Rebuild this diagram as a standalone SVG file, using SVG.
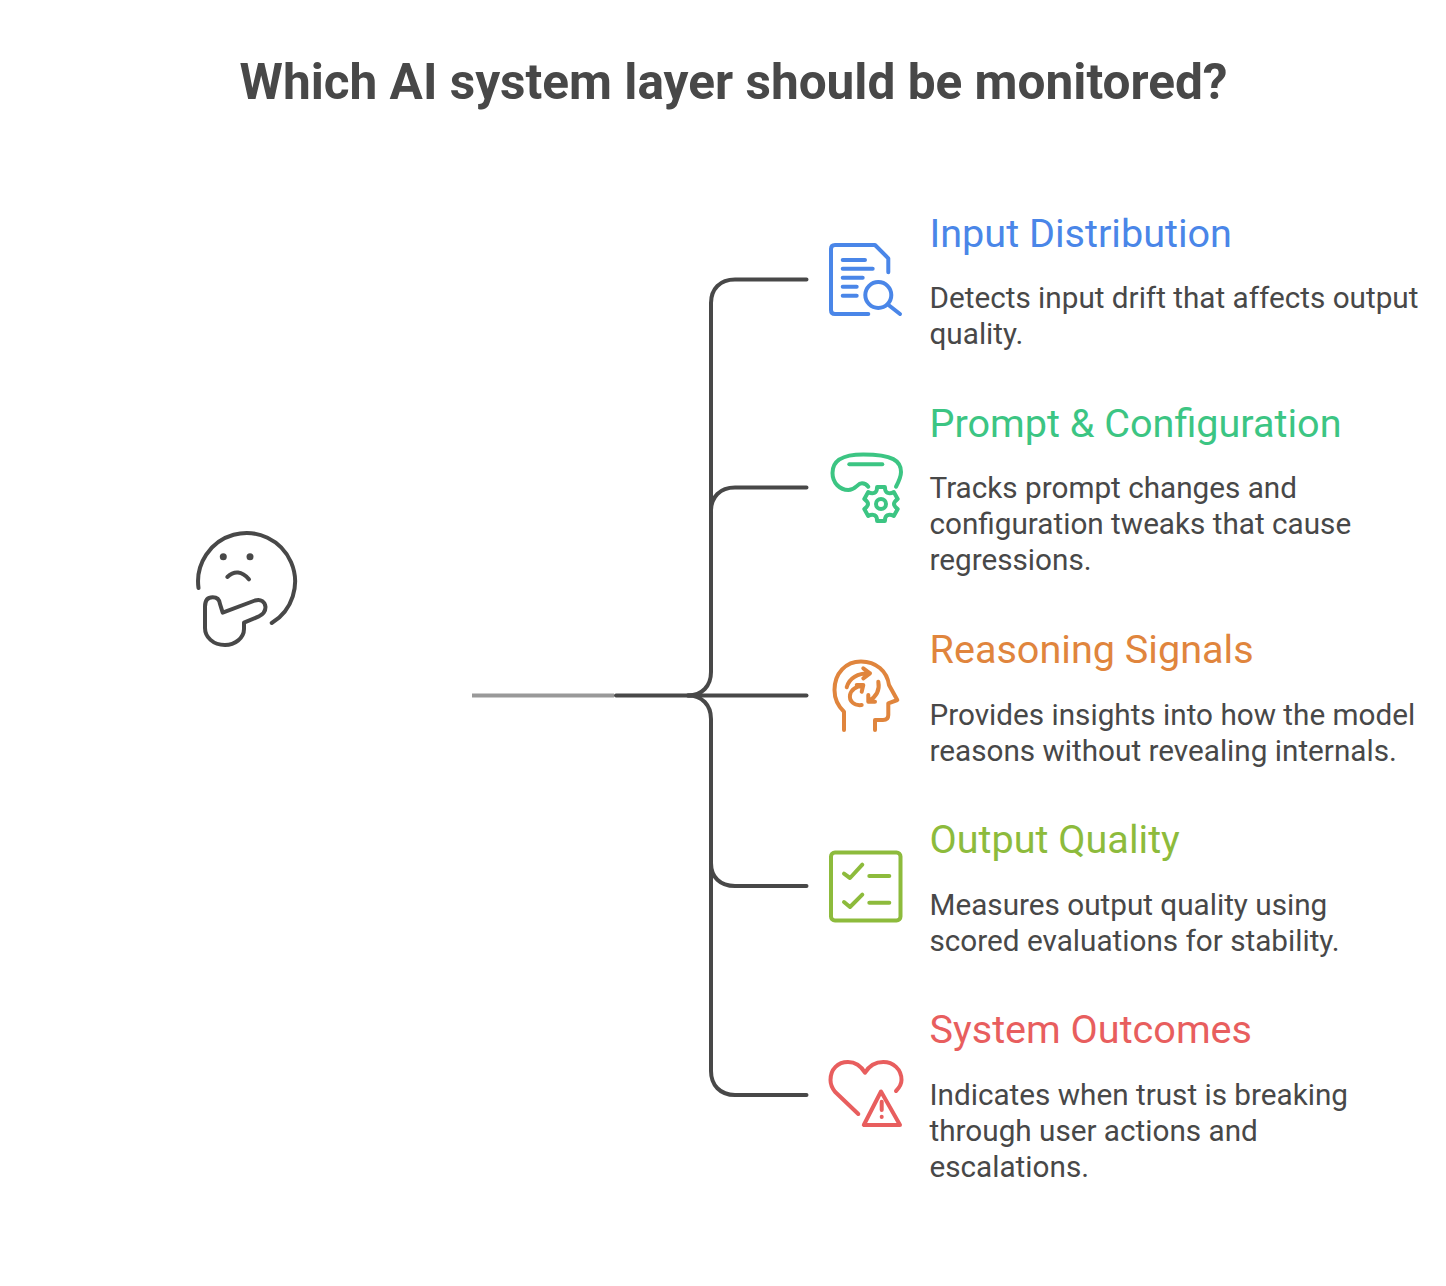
<svg xmlns="http://www.w3.org/2000/svg" width="1446" height="1286" viewBox="0 0 1446 1286">
<style>
text{font-family:Roboto,"Liberation Sans",sans-serif}
.title{font-size:49.550px;font-weight:700;fill:#484848}
.h{font-size:39.600px;font-weight:400}
.b{font-size:29.700px;fill:#484848}
.i{fill:none;stroke-width:4;stroke-linecap:round;stroke-linejoin:round}
.c{fill:none;stroke:#484848;stroke-width:4;stroke-linecap:round}
</style>
<rect width="1446" height="1286" fill="#fff"/>
<text class="title" x="733.500" y="99" text-anchor="middle">Which AI system layer should be monitored?</text>
<g id="connectors">
<path d="M472 695.500H614" fill="none" stroke="#999" stroke-width="4"/>
<path class="c" d="M616 695.500H806.500"/>
<path class="c" d="M806.500 279.500H735C720 279.500 711 289 711 303V672C711 686 702 695.500 688 695.500"/>
<path class="c" d="M806.500 487.500H735C720 487.500 711 497 711 511"/>
<path class="c" d="M688 695.500C702 695.500 711 705 711 719V1071C711 1085 720 1095 735 1095H806.500"/>
<path class="c" d="M711 863C711 877 720 886 735 886H806.500"/>
</g>
<g id="thinker" class="i" stroke="#484848">
<path d="M198.500 588A48.500 48.500 0 1 1 271.700 623"/>
<circle cx="223.300" cy="556.700" r="3.500" fill="#484848" stroke="none"/>
<circle cx="250" cy="556.700" r="3.500" fill="#484848" stroke="none"/>
<path d="M227.300 577Q238 567 249 579.300"/>
<path d="M205 606.700C205 600 208 597.300 212.700 597.300C217 597.300 219.500 600 220 604L222.700 612.700L255 600.500C261 598.500 265 602 265.500 607C265.500 612 262 615 258.300 616.700L244 622.700V629C244 638 235 645 225 645C213 645 205 637 205 628Z"/>
</g>
<g id="node-input">
<g class="i" stroke="#4A86E8">
<path d="M888.300 272.300V258.300L875 245H835Q831 245 831 249V310Q831 314 835 314H868.300"/>
<path d="M842.700 260H865M842.700 268.700H872.700M842.700 277.700H862.700M842.700 286.700H856.700M842.700 295.700H856.700"/>
<circle cx="878.300" cy="295" r="13"/>
<path d="M888.500 305L900 314"/>
</g>
<text class="h" x="929.500" y="246.500" fill="#4A86E8">Input Distribution</text>
<text class="b" x="929.500" y="308">Detects input drift that affects output</text>
<text class="b" x="929.500" y="344">quality.</text>
</g>
<g id="node-prompt">
<g class="i" stroke="#3CC583">
<path d="M896 486.700C899 481 901 477 901 472C901 461 893 454.500 863.300 454.500C841 454.500 832.500 461 832.500 473C832.500 483 840 490 848.300 490C856 490 857 483.300 862 483.300C865 483.300 867 485 868.300 486.700"/>
<path d="M849.300 464.300H882.300"/>
<path d="M877.100 487H884.900Q885 492 887.500 492.700Q890 494 893.800 492.100L897.700 498.900Q894 502 894 504Q894 506 897.700 509.100L893.800 515.900Q890 514 887.500 515.300Q885 516 884.900 521H877.100Q877 516 874.500 515.300Q872 514 868.200 515.900L864.300 509.100Q868 506 868 504Q868 502 864.300 498.900L868.200 492.100Q872 494 874.500 492.700Q877 492 877.100 487Z"/>
<circle cx="881" cy="504" r="5"/>
</g>
<text class="h" x="929.500" y="436.500" fill="#3CC583">Prompt &amp; Configuration</text>
<text class="b" x="929.500" y="498">Tracks prompt changes and</text>
<text class="b" x="929.500" y="534">configuration tweaks that cause</text>
<text class="b" x="929.500" y="570">regressions.</text>
</g>
<g id="node-reasoning">
<g class="i" stroke="#E0853D">
<path d="M844 730V711.700C838 706 834.500 698 834.500 690C834.500 673 846 661.500 861 661.500C876 661.500 887 671 889 685L897.300 700L888.300 703.300V715Q888.300 720 883 720H875V730"/>
<path d="M846.700 687.300C849 678 858 673 870 673.300M863.300 668.300L870 673.300L863.300 678.300"/>
<path d="M861.700 705C854 706 849 701 850 695C851 690 856 686 862.700 686M856.700 685H863.300L861.700 691.700"/>
<path d="M878.300 681.700C880 690 876 697 868.300 701.700M868.300 695V701.700H875"/>
</g>
<text class="h" x="929.500" y="662.500" fill="#E0853D">Reasoning Signals</text>
<text class="b" x="929.500" y="725">Provides insights into how the model</text>
<text class="b" x="929.500" y="761">reasons without revealing internals.</text>
</g>
<g id="node-output">
<g class="i" stroke="#8DBB3C">
<rect x="831" y="852.500" width="69.500" height="68" rx="4"/>
<path d="M844 873.700L850 878L862.300 864.700M869.300 876H889.300"/>
<path d="M844 902L850 907L862.300 894.700M869.300 902.700H889.300"/>
</g>
<text class="h" x="929.500" y="852.500" fill="#8DBB3C">Output Quality</text>
<text class="b" x="929.500" y="915">Measures output quality using</text>
<text class="b" x="929.500" y="951">scored evaluations for stability.</text>
</g>
<g id="node-outcomes">
<g class="i" stroke="#E85E5E">
<path d="M858.300 1114L835 1091.700C832 1088 830.500 1085 830.500 1080C830.500 1069 838 1062 848 1062C855 1062 861 1066 865 1072.700C869 1066 875 1062 883.300 1062C893 1062 901.500 1069 901.500 1080C901.500 1084 899 1088 896 1091"/>
<path d="M881 1091.500L863.800 1125H900Z"/>
<path d="M881.700 1101.700V1110M881.700 1116.700V1117"/>
</g>
<text class="h" x="929.500" y="1043" fill="#E85E5E">System Outcomes</text>
<text class="b" x="929.500" y="1105">Indicates when trust is breaking</text>
<text class="b" x="929.500" y="1141">through user actions and</text>
<text class="b" x="929.500" y="1177">escalations.</text>
</g>
</svg>
